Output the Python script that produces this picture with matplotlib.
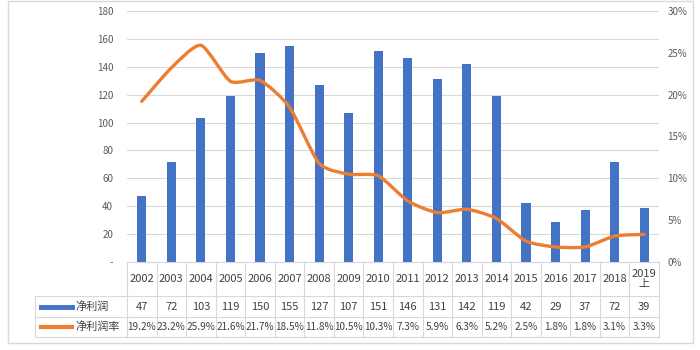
import matplotlib.pyplot as plt
import matplotlib.transforms as mtransforms
from matplotlib.path import Path
from matplotlib.patches import PathPatch
import numpy as np

plt.rcParams['font.family'] = ['Noto Sans CJK SC', 'DejaVu Sans']

# 数据
years = ['2002', '2003', '2004', '2005', '2006', '2007', '2008', '2009', '2010',
         '2011', '2012', '2013', '2014', '2015', '2016', '2017', '2018', '2019\n上']
profit = [47, 72, 103, 119, 150, 155, 127, 107, 151, 146, 131, 142, 119, 42, 29, 37, 72, 39]
margin = [19.2, 23.2, 25.9, 21.6, 21.7, 18.5, 11.8, 10.5, 10.3, 7.3, 5.9, 6.3, 5.2,
          2.5, 1.8, 1.8, 3.1, 3.3]
left_ticks = [0, 20, 40, 60, 80, 100, 120, 140, 160, 180]
right_ticks = [0, 5, 10, 15, 20, 25, 30]

blue = '#4472C4'
orange = '#ED7D31'
grid_c = '#D9D9D9'
txt_c = '#595959'

W, H = 700, 350
fig = plt.figure(figsize=(7, 3.5), dpi=100)

def fx(px):
    return px / W

def fy(py):
    return 1 - py / H

def smooth_path(xs, ys, k=9):
    # 平滑折线（三次贝塞尔）
    p = np.column_stack([xs, ys]).astype(float)
    ext = np.vstack([p[0], p, p[-1]])
    verts = [p[0]]
    codes = [Path.MOVETO]
    for i in range(len(p) - 1):
        a, b, c, d = ext[i], ext[i + 1], ext[i + 2], ext[i + 3]
        verts += [b + (c - a) / k, c - (d - b) / k, c]
        codes += [Path.CURVE4] * 3
    return Path(verts, codes)

# 绘图区
x0, x1, ytop, ybot = 127, 659, 11, 262
ax = fig.add_axes([fx(x0), fy(ybot), fx(x1) - fx(x0), fy(ytop) - fy(ybot)])
x = np.arange(len(years))
ax.bar(x, profit, width=0.31, color=blue, zorder=3)
ax.set_xlim(-0.5, len(years) - 0.5)
ax.set_ylim(0, 180)
ax.set_yticks(left_ticks)
ax.set_yticklabels(['-'] + [str(t) for t in left_ticks[1:]])
ax.yaxis.grid(True, color=grid_c, linewidth=0.8)
ax.set_axisbelow(True)
ax.tick_params(axis='y', length=0, labelsize=7, colors=txt_c, pad=10)
ax.set_xticks([])
for s in ax.spines.values():
    s.set_visible(False)

ax2 = ax.twinx()
ax2.add_patch(PathPatch(smooth_path(x, margin), facecolor='none', edgecolor=orange,
                        lw=2.4, capstyle='round', joinstyle='round', zorder=4))
ax2.set_ylim(0, 30)
ax2.set_yticks(right_ticks)
ax2.set_yticklabels([f'{t}%' for t in right_ticks])
ax2.tick_params(axis='y', length=0, labelsize=7, colors=txt_c, pad=6)
for s in ax2.spines.values():
    s.set_visible(False)

# 数据表
tr = mtransforms.blended_transform_factory(ax.transData, fig.transFigure)
rows = [262, 296, 317, 337]
n = len(years)
for yy in rows:
    ax.plot([-0.5, n - 0.5], [fy(yy), fy(yy)], color=grid_c, lw=0.8,
            transform=tr, clip_on=False)
for k in range(n + 1):
    ax.plot([k - 0.5, k - 0.5], [fy(262), fy(337)], color=grid_c, lw=0.8,
            transform=tr, clip_on=False)
for yy in rows[1:]:
    fig.add_artist(plt.Line2D([fx(35), fx(x0)], [fy(yy), fy(yy)], color=grid_c, lw=0.8))
fig.add_artist(plt.Line2D([fx(35), fx(35)], [fy(296), fy(337)], color=grid_c, lw=0.8))

for i in range(n):
    ax.text(i, fy(279), years[i], transform=tr, ha='center', va='center',
            fontsize=8, color='#404040', linespacing=1.1)
    ax.text(i, fy(306.5), str(profit[i]), transform=tr, ha='center', va='center',
            fontsize=8, color='#404040')
    ax.text(i, fy(327), f'{margin[i]}%', transform=tr, ha='center', va='center',
            fontsize=7.2, color='#404040')

fig.add_artist(plt.Line2D([fx(41), fx(72)], [fy(306.5), fy(306.5)], color=blue, lw=3.5))
fig.add_artist(plt.Line2D([fx(41), fx(72)], [fy(327), fy(327)], color=orange, lw=3))
fig.text(fx(75), fy(306.5), '净利润', ha='left', va='center', fontsize=8, color='#404040')
fig.text(fx(75), fy(327), '净利润率', ha='left', va='center', fontsize=8, color='#404040')

# 外框
fig.add_artist(plt.Rectangle((fx(8), fy(343)), fx(693) - fx(8), fy(0.5) - fy(343),
                             fill=False, edgecolor=grid_c, lw=1))

fig.savefig('out.png', dpi=100)
